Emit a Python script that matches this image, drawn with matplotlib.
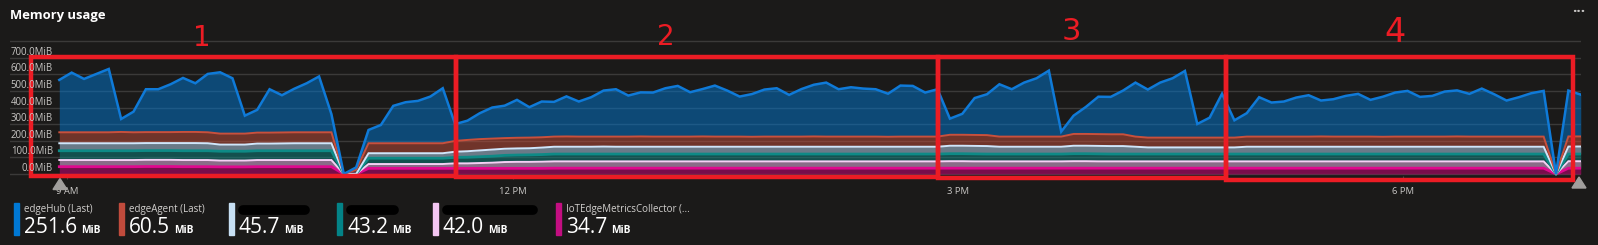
import matplotlib
matplotlib.use("Agg")
import matplotlib.pyplot as plt
import matplotlib.transforms as mtransforms
from matplotlib.patches import Rectangle, Polygon
from matplotlib.lines import Line2D
import numpy as np
import pandas as pd

plt.rcParams["font.family"] = ["Open Sans", "DejaVu Sans"]

# 5-minute samples (MiB), stacked bottom -> top:
# collector, module_c, module_b, module_a, edgeAgent, edgeHub
times = pd.date_range("2021-06-01 08:56:45", periods=124, freq="5min")

edge_hub = [
    315, 359, 321, 351, 381, 78, 124, 258, 258, 288,
    325, 293, 351, 369, 333, 108, 137, 261, 224, 262,
    295, 336, 109, 0, 15, 80, 110, 225, 247, 255,
    281, 331, 101, 116, 156, 187, 195, 228, 183, 215,
    209, 241, 211, 237, 277, 285, 247, 265, 265, 291,
    305, 267, 285, 307, 277, 241, 257, 283, 291, 251,
    286, 311, 325, 285, 297, 289, 285, 259, 307, 305,
    265, 285, 97, 126, 222, 246, 315, 285, 325, 351,
    397, 30, 110, 163, 225, 225, 263, 325, 289, 331,
    357, 401, 82, 120, 264, 104, 141, 237, 205, 211,
    235, 249, 216, 225, 245, 257, 221, 241, 265, 275,
    239, 245, 271, 277, 257, 289, 255, 217, 237, 261,
    275, 0, 276, 251.6,
]
edge_agent = [
    66, 66, 66, 66, 66, 68, 66, 66, 66, 66,
    67, 67, 66, 66, 66, 66, 66, 66, 66, 66,
    66, 66, 66, 0, 25, 60, 60, 60, 60, 60,
    60, 60, 65, 68, 68, 66, 64, 64, 64, 62,
    61, 62, 61, 61, 60, 61, 61, 62, 61, 61,
    61, 61, 62, 61, 61, 61, 60, 61, 61, 61,
    61, 62, 61, 61, 61, 61, 61, 60, 61, 61,
    61, 61, 66, 66, 66, 66, 61, 61, 61, 61,
    61, 61, 71, 71, 71, 71, 71, 61, 59, 59,
    59, 59, 59, 59, 59, 59, 61, 61, 61, 61,
    61, 61, 62, 61, 61, 61, 61, 60, 61, 61,
    61, 61, 61, 62, 61, 61, 61, 61, 61, 61,
    61, 0, 61, 60.5,
]
module_a = [
    45, 45, 45, 45, 45, 45, 45, 45, 45, 45,
    46, 46, 45, 40, 40, 40, 43, 43, 44, 45,
    45, 45, 45, 0, 0, 30, 30, 30, 30, 30,
    30, 30, 34, 36, 38, 40, 40, 40, 40, 42,
    44, 44, 44, 44, 45, 44, 44, 44, 44, 44,
    44, 44, 44, 44, 44, 44, 44, 44, 44, 44,
    44, 44, 44, 44, 44, 44, 44, 44, 44, 44,
    44, 44, 48, 48, 48, 48, 44, 44, 44, 44,
    44, 44, 48, 48, 48, 48, 48, 44, 40, 40,
    40, 40, 40, 40, 40, 40, 44, 44, 44, 44,
    44, 44, 44, 44, 44, 44, 44, 44, 44, 44,
    44, 44, 44, 44, 44, 44, 44, 44, 44, 44,
    44, 0, 45, 45.7,
]
module_b = [
    56, 56, 56, 56, 56, 56, 56, 56, 56, 56,
    56, 56, 56, 56, 56, 56, 56, 56, 56, 56,
    56, 56, 56, 0, 0, 35, 35, 35, 35, 35,
    35, 35, 36, 37, 38, 39, 40, 41, 42, 43,
    44, 44, 44, 44, 44, 44, 44, 44, 44, 44,
    44, 44, 44, 44, 44, 44, 44, 44, 44, 44,
    44, 44, 44, 44, 44, 44, 44, 44, 44, 44,
    44, 44, 45, 45, 45, 44, 44, 44, 44, 44,
    44, 44, 45, 45, 45, 44, 44, 44, 44, 44,
    44, 44, 44, 44, 44, 44, 44, 44, 44, 44,
    44, 44, 44, 44, 44, 44, 44, 44, 44, 44,
    44, 44, 44, 44, 44, 44, 44, 44, 44, 44,
    44, 0, 43, 43.2,
]
module_c = [
    40, 40, 40, 40, 40, 40, 40, 40, 40, 40,
    40, 40, 40, 38, 38, 38, 40, 40, 40, 40,
    40, 40, 40, 0, 0, 26, 26, 26, 26, 26,
    26, 26, 30, 30, 32, 34, 38, 39, 39, 40,
    41, 41, 41, 41, 41, 41, 41, 41, 41, 41,
    41, 41, 41, 41, 41, 41, 41, 41, 41, 41,
    41, 41, 41, 41, 41, 41, 41, 41, 41, 41,
    41, 41, 42, 42, 41, 41, 41, 41, 41, 41,
    41, 41, 42, 42, 41, 41, 41, 41, 41, 41,
    41, 41, 41, 41, 41, 41, 41, 41, 41, 41,
    41, 41, 41, 41, 41, 41, 41, 41, 41, 41,
    41, 41, 41, 41, 41, 41, 41, 41, 41, 41,
    41, 0, 42, 42.0,
]
collector = [
    44, 44, 44, 44, 44, 44, 44, 45, 45, 45,
    44, 44, 44, 43, 43, 43, 44, 44, 44, 44,
    44, 44, 44, 0, 0, 34, 34, 34, 34, 34,
    34, 34, 34, 34, 34, 34, 34, 34, 34, 34,
    35, 35, 35, 35, 35, 35, 35, 35, 35, 35,
    35, 35, 35, 35, 35, 35, 35, 35, 35, 35,
    35, 35, 35, 35, 35, 35, 35, 35, 35, 35,
    35, 35, 35, 35, 35, 35, 35, 35, 35, 35,
    35, 35, 35, 35, 35, 35, 35, 35, 35, 35,
    35, 35, 35, 35, 35, 35, 35, 35, 35, 35,
    35, 35, 35, 35, 35, 35, 35, 35, 35, 35,
    35, 35, 35, 35, 35, 35, 35, 35, 35, 35,
    35, 0, 35, 34.7,
]

legend_labels = ["edgeHub (Last)", "edgeAgent (Last)", None, None, None,
                 "IoTEdgeMetricsCollector (..."]
tick_times = ["09:00", "12:00", "15:00", "18:00"]
tick_labels = ["9 AM", "12 PM", "3 PM", "6 PM"]
y_ticks = [0, 100, 200, 300, 400, 500, 600, 700]

BG = "#1b1a19"
TXT = "#c8c6c4"
RED = "#ec1c24"
W, H = 1598, 245


def fx(px):
    return px / W


def fy(py):
    return 1 - py / H


fig = plt.figure(figsize=(W / 100, H / 100), dpi=100, facecolor=BG)
# 0 MiB sits at y=174px, 100 MiB every 16.62px; data spans x 59..1581px
ax = fig.add_axes([fx(10), fy(176), fx(1581) - fx(10), (176 - 40) / H])
ax.set_facecolor(BG)
for s in ax.spines.values():
    s.set_visible(False)

mins = (times.hour * 60 + times.minute + times.second / 60).to_numpy(float)
ax.set_xlim(mins[0] - 49.3 / 2.474, mins[-1] + 0.1)
ax.set_ylim(-2 / 0.1662, 800 + 1.04 / 0.1662)

# stack, bottom first: (values, line colour, fill colour, line width)
layers = [
    (collector, "#e0088e", "#d5027d", 2.0),
    (module_c, "#f6cff4", "#f9bef7", 1.4),
    (module_b, "#0e8a86", "#0d8683", 2.0),
    (module_a, "#cfe6fb", "#b9daf7", 1.4),
    (edge_agent, "#c9503c", "#c54e3b", 1.4),
    (edge_hub, "#0f7ad8", "#0078d4", 1.8),
]
base = np.zeros(len(mins))
for vals, lc, fc, lw in layers:
    top = base + np.asarray(vals, dtype=float)
    ax.fill_between(mins, base, top, color=fc, alpha=0.5, lw=0)
    ax.plot(mins, top, color=lc, lw=lw, solid_joinstyle="miter")
    base = top

ax.set_axisbelow(True)
ax.set_yticks(np.arange(0, 801, 100))
ax.grid(axis="y", color="#3b3a39", lw=1.0)
ax.tick_params(axis="y", length=0, labelleft=False)

tick_pos = [int(t[:2]) * 60 + int(t[3:]) for t in tick_times]
ax.set_xticks(tick_pos)
ax.set_xticklabels(tick_labels)
ax.tick_params(axis="x", length=2, color="#484644", labelcolor=TXT,
               labelsize=6.8, pad=6)

# y labels sit just above their grid lines
ytrans = mtransforms.blended_transform_factory(fig.transFigure, ax.transData) + \
    mtransforms.ScaledTranslation(0, 3 / 100, fig.dpi_scale_trans)
for v in y_ticks:
    fig.text(fx(53), v, f"{v:.1f}MiB", transform=ytrans, ha="right",
             va="baseline", color=TXT, fontsize=6.9)

fig.text(fx(10), fy(16), "Memory usage", ha="left", va="center",
         color="white", fontsize=9.4, weight="bold")
fig.text(fx(1579), fy(12), "···", ha="center", va="center",
         color=TXT, fontsize=11, weight="bold")

# time range handles
for cx, cy in [(60, 184.5), (1579, 183)]:
    fig.patches.append(Polygon(
        [(fx(cx - 7), fy(cy + 5)), (fx(cx + 7), fy(cy + 5)), (fx(cx), fy(cy - 6))],
        closed=True, transform=fig.transFigure, color="#a19f9d"))

# legend
series_top_first = [edge_hub, edge_agent, module_a, module_b, module_c, collector]
bar_colors = ["#0078d4", "#c14b3c", "#c7e0f4", "#038387", "#f4c6f2", "#c30e81"]
bar_x = [14, 119, 229, 337, 433, 556]
redact_w = [0, 0, 70, 51, 94, 0]
renderer = fig.canvas.get_renderer()
for lab, vals, col, bx, rw in zip(legend_labels, series_top_first, bar_colors,
                                   bar_x, redact_w):
    fig.patches.append(Rectangle((fx(bx), fy(235)), 4.5 / W, 32 / H,
                                 transform=fig.transFigure, color=col))
    if lab:
        fig.text(fx(bx + 10), fy(209.5), lab, ha="left", va="center",
                 color="#d2d0ce", fontsize=7)
    else:
        fig.lines.append(Line2D([fx(bx + 14), fx(bx + 10 + rw - 4)],
                                [fy(209.5), fy(209.5)], transform=fig.transFigure,
                                color="black", lw=7.0, solid_capstyle="round"))
    t = fig.text(fx(bx + 10), fy(232.5), f"{vals[-1]:.1f}", ha="left",
                 va="baseline", color="white", fontsize=15)
    bb = t.get_window_extent(renderer)
    fig.text((bb.x1 + 4) / W, fy(232.5), "MiB", ha="left", va="baseline",
             color="white", fontsize=7.4, weight="bold")

# hand-drawn red annotation boxes and numbers
boxes = [(31.3, 57.2, 456, 176.2), (456, 57, 937.5, 176.8),
         (937.5, 57.5, 1225.8, 177.5), (1225.8, 57.5, 1572.5, 180)]
for x0, y0, x1, y1 in boxes:
    fig.patches.append(Rectangle((fx(x0), fy(y1)), (x1 - x0) / W, (y1 - y0) / H,
                                 transform=fig.transFigure, fill=False,
                                 edgecolor=RED, lw=3.2))
for num, cx, cy, fs in [("1", 202, 38, 20), ("2", 666, 37, 20),
                        ("3", 1071, 32, 22), ("4", 1395, 32, 24)]:
    fig.text(fx(cx), fy(cy), num, ha="center", va="center", color=RED,
             fontsize=fs, family="DejaVu Sans")

fig.savefig("out.png", dpi=100, facecolor=BG)
